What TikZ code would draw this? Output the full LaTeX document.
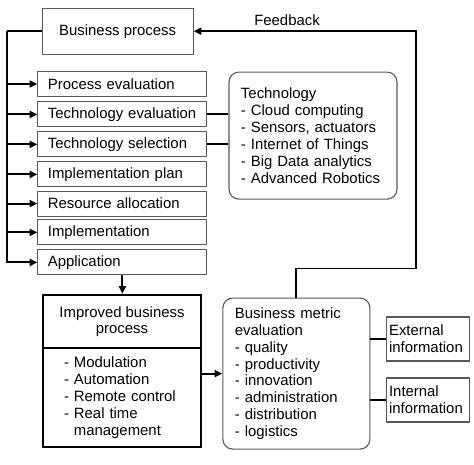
\documentclass[tikz,border=0pt]{standalone}
\usepackage{fontspec}
\setmainfont{Liberation Sans}
\usetikzlibrary{positioning, arrows.meta}

\begin{document}
\begin{tikzpicture}[
  font=\fontsize{10.6}{12}\selectfont,
  box/.style={draw=black!65, line width=0.8pt, minimum height=6.25mm,
              text width=37.25mm, inner xsep=2.5mm, inner ysep=0pt,
              align=left},
  info/.style={draw=black!65, line width=0.8pt, rounded corners=7pt,
               inner xsep=3mm, align=left},
  side/.style={draw=black!65, line width=0.8pt, minimum height=11mm,
               text width=19.25mm, inner xsep=0.75mm, align=left},
  heavy/.style={draw, line width=1.8pt, minimum width=39.5mm},
  line/.style={line width=1.3pt},
  arr/.style={-{Triangle[length=5.5pt,width=5pt]}, line width=1.3pt}
]
\useasboundingbox (0,0) rectangle (11.85,-11.625);
\node[draw=black!65, line width=0.8pt, minimum width=37.75mm,
      minimum height=11.5mm] (bp) at (2.94,-0.78) {Business process};
\node[box] (pe) at (3.06,-2.1) {Process evaluation};
\node[box] (te) at (3.06,-2.86) {Technology evaluation};
\node[box] (ts) at (3.06,-3.61) {Technology selection};
\node[box] (ip) at (3.06,-4.36) {Implementation plan};
\node[box] (ra) at (3.06,-5.09) {Resource allocation};
\node[box] (im) at (3.06,-5.81) {Implementation};
\node[box] (app) at (3.06,-6.56) {Application};
\node[info, text width=36mm, minimum height=31.75mm] (tech) at (7.825,-3.39)
  {Technology\\- Cloud computing\\- Sensors, actuators\\- Internet of Things\\
   - Big Data analytics\\- Advanced Robotics};
\node[heavy, minimum height=13.25mm, align=center] (ibp) at (3.05,-8.04)
  {Improved business\\process};
\node[heavy, minimum height=24.75mm, text width=29mm, inner xsep=5.25mm,
      align=left] (ibpl) at (3.05,-9.94)
  {- Modulation\\- Automation\\- Remote control\\- Real time\\
   \hphantom{- }management};
\node[info, text width=30.75mm, minimum height=37.75mm] (metric) at (7.41,-9.34)
  {Business metric\\evaluation\\- quality\\- productivity\\- innovation\\
   - administration\\- distribution\\- logistics};
\node[side] (ext) at (10.69,-8.475) {External\\information};
\node[side] (int) at (10.69,-10.0) {Internal\\information};
\coordinate (spine) at (0.175,-0.78);
\coordinate (fbk) at (10.4,-0.78);
\draw[line] (bp.west) -- (spine);
\draw[arr] (spine) |- (app.west);
\draw[arr] (spine |- pe.west) -- (pe.west);
\draw[arr] (spine |- te.west) -- (te.west);
\draw[arr] (spine |- ts.west) -- (ts.west);
\draw[arr] (spine |- ip.west) -- (ip.west);
\draw[arr] (spine |- ra.west) -- (ra.west);
\draw[arr] (spine |- im.west) -- (im.west);
\draw[line] (te.east) -- (te.east -| tech.west);
\draw[line] (ts.east) -- (ts.east -| tech.west);
\draw[arr] (app.south) -- (app.south |- ibp.north);
\draw[arr] (ibpl.east |- metric.west) -- (metric.west);
\draw[line] (ext.west) -- (ext.west -| metric.east);
\draw[line] (int.west) -- (int.west -| metric.east);
\draw[arr] (metric.north) -- ++(0,0.725) -| (fbk)
  -- node[above, pos=0.58] {Feedback} (bp.east);
\end{tikzpicture}
\end{document}
